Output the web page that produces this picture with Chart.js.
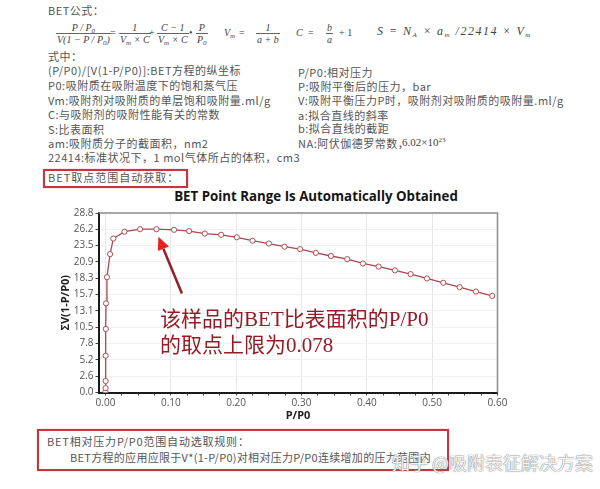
<!DOCTYPE html>
<html>
<head>
<meta charset="utf-8">
<script src="https://cdn.jsdelivr.net/npm/chart.js@4"></script>
<style>
  html, body { margin: 0; padding: 0; background: #fff; }
  #page { position: relative; width: 600px; height: 489px; overflow: hidden; background: #fff; }
  .t { position: absolute; font: 11px "Noto Sans CJK SC", sans-serif; line-height: 16px; color: #555; white-space: nowrap; letter-spacing: 0.5px; }
  .f { position: absolute; font: italic 10px "Liberation Serif", serif; color: #444; line-height: 11px; white-space: nowrap; }
  .fr { position: absolute; top: 22px; display: flex; flex-direction: column; align-items: center; font: italic 10px "Liberation Serif", serif; color: #444; line-height: 11px; white-space: nowrap; }
  .fr span { padding: 0 1px; }
  .fr span + span { border-top: 1px solid #666; align-self: stretch; text-align: center; }
  sub { font-size: 7px; vertical-align: -2px; line-height: 0; }
  sup { font-size: 7px; vertical-align: 4px; line-height: 0; }
  .box { position: absolute; border: 2px solid #c9353d; box-shadow: 0 0 1px #d88; }
  #ttl { position: absolute; left: 0; width: 632px; top: 187px; text-align: center; font: bold 13.3px "Open Sans", sans-serif; line-height: 18px; color: #151515; }
  #wrap { position: absolute; left: 0; top: 200px; width: 600px; height: 225px; }
  #wm { position: absolute; left: 392px; top: 450px; font: 18px "Noto Sans CJK SC", sans-serif; line-height: 24px; color: #f6f6f6; text-shadow: 0 0 1px #7a7a7a, 0 0 1px #7a7a7a; white-space: nowrap; }
</style>
</head>
<body>
<div id="page">
  <div class="t" style="left:48px;top:2px">BET公式：</div>

  <div class="fr" style="left:56px"><span>P / P<sub>0</sub></span><span>V(1 − P / P<sub>0</sub>)</span></div>
  <div class="f" style="left:110px;top:27px;font-style:normal">=</div>
  <div class="fr" style="left:119px"><span>1</span><span>V<sub>m</sub> × C</span></div>
  <div class="f" style="left:149px;top:27px;font-style:normal">+</div>
  <div class="fr" style="left:157px"><span>C − 1</span><span>V<sub>m</sub> × C</span></div>
  <div class="f" style="left:189px;top:27px;font-style:normal">•</div>
  <div class="fr" style="left:196px"><span>P</span><span>P<sub>0</sub></span></div>
  <div class="f" style="left:224px;top:27px">V<sub>m</sub></div>
  <div class="f" style="left:239px;top:27px;font-style:normal">=</div>
  <div class="fr" style="left:256px"><span>1</span><span>a + b</span></div>
  <div class="f" style="left:296px;top:27px">C</div>
  <div class="f" style="left:308px;top:27px;font-style:normal">=</div>
  <div class="fr" style="left:326px"><span>b</span><span>a</span></div>
  <div class="f" style="left:339px;top:27px;font-style:normal">+ 1</div>
  <div class="f" style="left:377px;top:26px;font-size:12px;letter-spacing:1.5px">S = N<sub>A</sub> × a<sub>m</sub> /22414 × V<sub>m</sub></div>

  <div class="t" style="left:48px;top:48px">式中：</div>
  <div class="t" style="left:48px;top:62px">(P/P0)/[V(1-P/P0)]:BET方程的纵坐标</div>
  <div class="t" style="left:48px;top:77px">P0:吸附质在吸附温度下的饱和蒸气压</div>
  <div class="t" style="left:48px;top:92px">Vm:吸附剂对吸附质的单层饱和吸附量.ml/g</div>
  <div class="t" style="left:48px;top:106px">C:与吸附剂的吸附性能有关的常数</div>
  <div class="t" style="left:48px;top:121px">S:比表面积</div>
  <div class="t" style="left:48px;top:135px">am:吸附质分子的截面积，nm2</div>
  <div class="t" style="left:48px;top:149px">22414:标准状况下，1 mol气体所占的体积，cm3</div>

  <div class="t" style="left:298px;top:64px">P/P0:相对压力</div>
  <div class="t" style="left:298px;top:78px">P:吸附平衡后的压力，bar</div>
  <div class="t" style="left:298px;top:92px">V:吸附平衡压力P时，吸附剂对吸附质的吸附量.ml/g</div>
  <div class="t" style="left:298px;top:107px">a:拟合直线的斜率</div>
  <div class="t" style="left:298px;top:120px">b:拟合直线的截距</div>
  <div class="t" style="left:298px;top:135px">NA:阿伏伽德罗常数，</div>
  <div class="f" style="left:402px;top:137px;font-style:normal;font-size:11px">6.02×10<sup>23</sup></div>

  <div class="box" style="left:43px;top:169px;width:141px;height:15px"></div>
  <div class="t" style="left:48px;top:169px;letter-spacing:1px">BET取点范围自动获取：</div>

  <div id="ttl">BET Point Range Is Automatically Obtained</div>
  <div id="wrap"><canvas id="c"></canvas></div>

  <div class="box" style="left:37px;top:429px;width:408px;height:38px"></div>
  <div class="t" style="left:47px;top:433px;letter-spacing:0.8px">BET相对压力P/P0范围自动选取规则：</div>
  <div class="t" style="left:70px;top:449px;letter-spacing:0.3px">BET方程的应用应限于V*(1-P/P0)对相对压力P/P0连续增加的压力范围内</div>

  <div id="wm">知乎 @吸附表征解决方案</div>
</div>

<script>
// BET 曲线数据
const relPressure = [0.0000, 0.0001, 0.0002, 0.0003, 0.0005, 0.0008, 0.0022, 0.0070, 0.0120,
  0.0290, 0.0530, 0.0780, 0.1050, 0.1280, 0.1520, 0.1770, 0.2010, 0.2250, 0.2500, 0.2740,
  0.2980, 0.3220, 0.3450, 0.3700, 0.3940, 0.4180, 0.4430, 0.4670, 0.4920, 0.5170, 0.5420,
  0.5670, 0.5920];
const betOrdinate = [0.13, 0.7, 1.85, 5.9, 10.2, 14.3, 18.5, 22.2, 24.7,
  25.8, 26.2, 26.2, 26.1, 25.9, 25.5, 25.3, 24.9, 24.35, 23.9, 23.4,
  23.0, 22.4, 21.9, 21.4, 20.7, 20.2, 19.6, 19.0, 18.3, 17.6, 16.9,
  16.2, 15.5];

const xTickLabels = ['0.00', '0.10', '0.20', '0.30', '0.40', '0.50', '0.60'];
const yTickLabels = ['0.0', '2.6', '5.2', '7.8', '10.5', '13.1', '15.7', '18.3', '20.9', '23.5', '26.2', '28.8'];

// 注释：箭头和文字（数据坐标）
const noteLines = ['该样品的BET比表面积的P/P0', '的取点上限为0.078'];
const noteX = 0.0835;
const noteY = [11.6, 7.35];
const arrowTip = { x: 0.081, y: 25.0 };
const arrowTail = { x: 0.117, y: 15.9 };

const yMax = 28.8;
const xMinor = 0.025;

const frameAndNote = {
  id: 'frameAndNote',
  beforeDatasetsDraw(chart) {
    const { ctx, chartArea: a } = chart;
    ctx.save();
    ctx.strokeStyle = '#8c8c8c';
    ctx.lineWidth = 1.5;
    ctx.beginPath();
    ctx.moveTo(a.left, a.top);
    ctx.lineTo(a.right, a.top);
    ctx.lineTo(a.right, a.bottom);
    ctx.stroke();
    ctx.restore();
  },
  afterDatasetsDraw(chart) {
    const { ctx } = chart;
    const x = chart.scales.x, y = chart.scales.y;
    ctx.save();
    // 箭头
    const tx = x.getPixelForValue(arrowTip.x), ty = y.getPixelForValue(arrowTip.y);
    const sx = x.getPixelForValue(arrowTail.x), sy = y.getPixelForValue(arrowTail.y);
    const ang = Math.atan2(ty - sy, tx - sx);
    const hl = 13, hw = 6;
    const bx = tx - hl * Math.cos(ang), by = ty - hl * Math.sin(ang);
    ctx.strokeStyle = '#8e2227';
    ctx.lineWidth = 2.5;
    ctx.beginPath();
    ctx.moveTo(sx, sy);
    ctx.lineTo(bx, by);
    ctx.stroke();
    ctx.fillStyle = '#e3231f';
    ctx.beginPath();
    ctx.moveTo(tx, ty);
    ctx.lineTo(bx + hw * Math.sin(ang), by - hw * Math.cos(ang));
    ctx.lineTo(bx - hw * Math.sin(ang), by + hw * Math.cos(ang));
    ctx.closePath();
    ctx.fill();
    // 文字
    ctx.fillStyle = '#931d27';
    ctx.font = '21px "Liberation Serif", "Noto Sans CJK SC", serif';
    ctx.textBaseline = 'middle';
    ctx.textAlign = 'left';
    noteLines.forEach((line, i) => {
      ctx.fillText(line, x.getPixelForValue(noteX), y.getPixelForValue(noteY[i]));
    });
    ctx.restore();
  }
};

const ctx = document.getElementById('c').getContext('2d');

new Chart(ctx, {
  type: 'line',
  data: {
    datasets: [{
      data: relPressure.map((p, i) => ({ x: p, y: betOrdinate[i] })),
      borderColor: '#a84850',
      borderWidth: 1.3,
      backgroundColor: '#fff',
      pointBackgroundColor: '#fff',
      pointBorderColor: '#b24d55',
      pointBorderWidth: 1,
      pointRadius: 2.6,
      tension: 0
    }]
  },
  options: {
    responsive: true,
    maintainAspectRatio: false,
    animation: false,
    layout: { padding: { left: 52, top: 13, right: 102.5, bottom: 0 } },
    plugins: { legend: { display: false }, tooltip: { enabled: false } },
    scales: {
      x: {
        type: 'linear',
        min: -0.0107,
        max: 0.6,
        afterBuildTicks: axis => {
          const ticks = [];
          for (let i = 0; i <= 24; i++) ticks.push({ value: i * xMinor });
          axis.ticks = ticks;
        },
        afterFit: axis => { axis.height = 32.5; },
        ticks: {
          autoSkip: false,
          maxRotation: 0,
          padding: 2,
          color: '#555',
          font: { family: 'Open Sans', size: 10 },
          callback: v => {
            const k = Math.round(v * 10);
            return Math.abs(v * 10 - k) < 1e-6 ? xTickLabels[k] : '';
          }
        },
        grid: {
          color: c => {
            const v = c.tick ? c.tick.value * 10 : 0.5;
            return Math.abs(v - Math.round(v)) < 1e-6 ? '#e6e6e6' : 'rgba(0,0,0,0)';
          },
          tickColor: '#444',
          tickLength: 3
        },
        border: { color: '#1a1a1a', width: 2 },
        title: {
          display: true,
          text: 'P/P0',
          color: '#222',
          font: { family: 'Open Sans', size: 11, weight: 'bold' },
          padding: { top: 3, bottom: 3 }
        }
      },
      y: {
        min: 0,
        max: yMax,
        afterBuildTicks: axis => {
          axis.ticks = yTickLabels.map((_, i) => ({ value: i * yMax / (yTickLabels.length - 1) }));
        },
        afterFit: axis => { axis.width = 46.5; },
        ticks: {
          autoSkip: false,
          padding: 2,
          color: '#555',
          font: { family: 'Open Sans', size: 10 },
          callback: (v, i) => yTickLabels[i]
        },
        grid: { color: '#f1f1f1', tickColor: '#444', tickLength: 3 },
        border: { color: '#1a1a1a', width: 2 },
        title: {
          display: true,
          text: 'ΣV(1-P/P0)',
          color: '#222',
          font: { family: 'Open Sans', size: 11, weight: 'bold' },
          padding: { top: 7, bottom: 4 }
        }
      }
    }
  },
  plugins: [frameAndNote]
});
</script>
</body>
</html>
